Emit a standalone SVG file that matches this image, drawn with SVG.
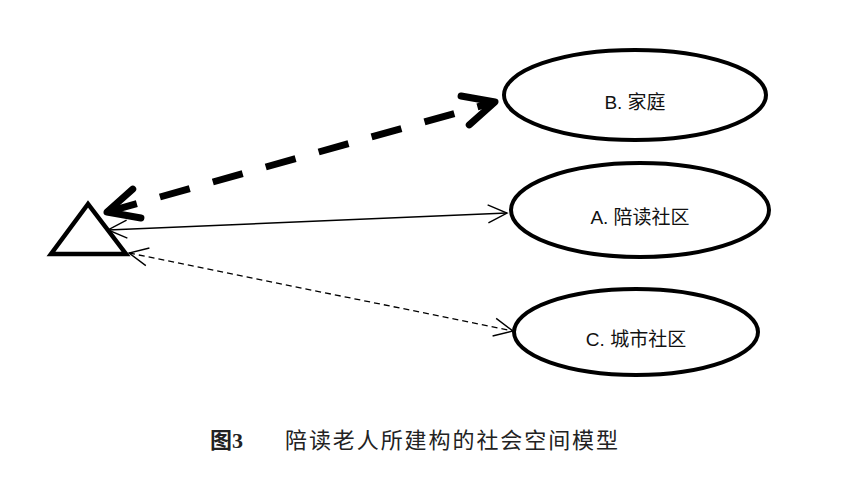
<svg xmlns="http://www.w3.org/2000/svg" width="865" height="484" viewBox="0 0 865 484">
<style>
.node{fill:#fff;stroke:#000;stroke-width:4}
.lbl{font-family:"Liberation Sans","Noto Sans CJK SC",sans-serif;font-size:19px;fill:#111;text-anchor:middle}
.cap{font-family:"Liberation Serif","Noto Sans CJK SC",serif;font-size:22px;fill:#222}
.thick{stroke:#000;stroke-width:7;fill:none;stroke-dasharray:31 24}
.solid{stroke:#000;stroke-width:1.6;fill:none}
.dash{stroke:#000;stroke-width:1.3;fill:none;stroke-dasharray:6 4}
</style>
<defs>
<marker id="hThick" markerUnits="userSpaceOnUse" markerWidth="50" markerHeight="50" refX="0" refY="0" viewBox="-40 -25 50 50" orient="auto-start-reverse" overflow="visible">
<path d="M-31 -15 L0 0 L-31 15" fill="none" stroke="#000" stroke-width="7" stroke-linecap="round" stroke-linejoin="round"/>
</marker>
<marker id="hThin" markerUnits="userSpaceOnUse" markerWidth="30" markerHeight="30" refX="0" refY="0" viewBox="-25 -15 30 30" orient="auto-start-reverse" overflow="visible">
<path d="M-19 -9 L0 0 L-19 9" fill="none" stroke="#000" stroke-width="1.4"/>
</marker>
</defs>
<rect width="865" height="484" fill="#fff"/>
<g id="connectors">
<line class="thick" x1="107" y1="212" x2="495" y2="102" marker-start="url(#hThick)" marker-end="url(#hThick)"/>
<line class="solid" x1="108" y1="230" x2="507" y2="213" marker-start="url(#hThin)" marker-end="url(#hThin)"/>
<line class="dash" x1="129" y1="253" x2="513" y2="331" marker-start="url(#hThin)" marker-end="url(#hThin)"/>
</g>
<g id="self">
<polygon points="88,204 51,254 126,254" fill="none" stroke="#000" stroke-width="4.5" stroke-linejoin="miter"/>
</g>
<g id="nodeB">
<ellipse class="node" cx="635" cy="95" rx="131" ry="45"/>
<text class="lbl" x="635" y="109">B. 家庭</text>
</g>
<g id="nodeA">
<ellipse class="node" cx="640" cy="210" rx="129" ry="47"/>
<text class="lbl" x="640" y="224">A. 陪读社区</text>
</g>
<g id="nodeC">
<ellipse class="node" cx="636" cy="332" rx="122" ry="43"/>
<text class="lbl" x="636" y="346">C. 城市社区</text>
</g>
<g id="caption">
<text class="cap" x="210" y="448" font-weight="bold">图3</text>
<text class="cap" x="285" y="448" textLength="333">陪读老人所建构的社会空间模型</text>
</g>
</svg>
